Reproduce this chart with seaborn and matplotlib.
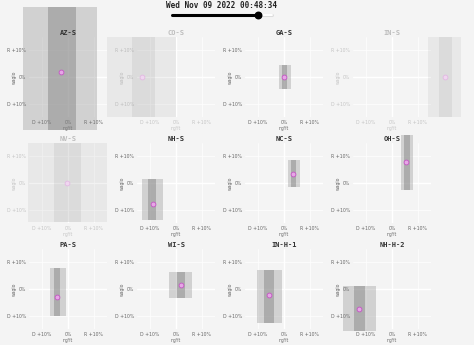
import matplotlib
matplotlib.use("Agg")
import matplotlib.pyplot as plt
from matplotlib.patches import Rectangle
import seaborn as sns
import pandas as pd

# ---- data ----
states = ["AZ-S", "CO-S", "GA-S", "IN-S",
          "NV-S", "NH-S", "NC-S", "OH-S",
          "PA-S", "WI-S", "IN-H-1", "NH-H-2"]
point_x = [-2.7, -13.0, 0.0, 20.4, -0.4, -8.8, 3.5, 5.4, -4.2, 1.9, -5.8, -12.7]
point_y = [1.9, 0.0, 0.0, 0.0, 0.0, -7.9, 3.4, 7.9, -3.0, 1.5, -2.3, -7.5]
outer_x_lo = [-17.3, -26.5, -1.9, 13.8, -15.4, -13.1, 1.5, 3.5, -6.9, -2.7, -10.4, -18.8]
outer_x_hi = [11.2, 0.0, 2.7, 26.5, 15.0, -5.0, 6.2, 8.1, -0.8, 6.2, -0.8, -6.2]
inner_x_lo = [-7.7, -16.9, -0.8, 18.1, -5.4, -10.8, 2.7, 4.6, -5.4, 0.4, -7.7, -14.6]
inner_x_hi = [3.1, -8.1, 1.2, 23.1, 5.0, -7.7, 4.6, 6.9, -3.1, 3.5, -3.8, -10.4]
band_y_lo = [-20.0, -15.1, -4.5, -15.1, -14.7, -14.0, -1.5, -2.6, -10.2, -3.4, -12.8, -15.8]
band_y_hi = [26.4, 15.1, 4.5, 15.1, 15.1, 1.5, 8.7, 18.1, 7.9, 6.4, 7.2, 1.1]
faded = [False, True, False, True, True, False, False, False, False, False, False, False]
tick_vals = [-10, 0, 10]
x_tick_labels = ["D +10%", "0%", "R +10%"]
y_tick_labels = ["D +10%", "0%", "R +10%"]
x_label = "ngYt"
y_label = "wagio"
timestamp = "Wed Nov 09 2022 00:48:34"

df = pd.DataFrame({"state": states, "px": point_x, "py": point_y})

BG = "#f4f4f4"
sns.set_theme(style="white")
plt.rcParams["font.family"] = ["DejaVu Sans"]

W, H = 474, 345
fig = plt.figure(figsize=(W / 100, H / 100), dpi=100, facecolor=BG)

col_left = [29, 137, 245, 353]
row_top = [37, 143, 249]
aw, ah = 78, 80

for i, st in enumerate(states):
    r, c = divmod(i, 4)
    left = col_left[c] / W
    bottom = 1 - (row_top[r] + ah) / H
    ax = fig.add_axes([left, bottom, aw / W, ah / H])
    ax.set_facecolor(BG)
    ax.patch.set_alpha(0)
    ax.set_xlim(-15, 15)
    ax.set_ylim(-15, 15)
    for s in ax.spines.values():
        s.set_visible(False)
    f = faded[i]
    txt_col = "#c4c4c4" if f else "#666666"
    tit_col = "#bdbdbd" if f else "#333333"
    a_out = 0.10 if f else 0.30
    a_in = 0.12 if f else 0.45
    # grid
    for v in tick_vals:
        lw = 1.0 if v == 0 else 0.5
        ax.axhline(v, color="white", lw=lw, zorder=0)
        ax.axvline(v, color="white", lw=lw, zorder=0)
    # bands
    ax.add_patch(Rectangle((outer_x_lo[i], band_y_lo[i]), outer_x_hi[i] - outer_x_lo[i],
                           band_y_hi[i] - band_y_lo[i], facecolor="#808080", alpha=a_out,
                           lw=0, clip_on=False, zorder=1))
    ax.add_patch(Rectangle((inner_x_lo[i], band_y_lo[i]), inner_x_hi[i] - inner_x_lo[i],
                           band_y_hi[i] - band_y_lo[i], facecolor="#808080", alpha=a_in,
                           lw=0, clip_on=False, zorder=2))
    sub = df[df["state"] == st]
    sns.scatterplot(data=sub, x="px", y="py", ax=ax, s=12,
                    color="#e6a6e6" if not f else "#f0d6f0",
                    edgecolor="#c455c4" if not f else "#e2b8e2",
                    linewidth=0.6, zorder=5, clip_on=False, legend=False)
    ax.set_xticks(tick_vals)
    ax.set_xticklabels(x_tick_labels)
    ax.set_yticks(tick_vals)
    ax.set_yticklabels(y_tick_labels)
    ax.tick_params(length=0, labelsize=3.3, colors=txt_col, pad=2)
    ax.set_xlabel(x_label, fontsize=3.3, color=txt_col, labelpad=1)
    ax.set_ylabel(y_label, fontsize=3.3, color=txt_col)
    ax.yaxis.set_label_coords(-0.15, 0.5)
    ax.set_title(st, fontsize=5, color=tit_col, fontweight="bold",
                 family="DejaVu Sans Mono", pad=1.5, zorder=10)

# timestamp and slider
fig.text(222 / W, 1 - 6 / H, timestamp, ha="center", va="center",
         fontsize=5.5, fontweight="bold", family="DejaVu Sans Mono", color="#222222")
sax = fig.add_axes([0, 0, 1, 1], facecolor="none")
sax.set_xlim(0, W)
sax.set_ylim(H, 0)
sax.axis("off")
sax.plot([258, 272], [15, 15], color="#dddddd", lw=2.2, solid_capstyle="round")
sax.plot([258, 272], [15, 15], color="white", lw=1.4, solid_capstyle="round")
sax.plot([172, 258], [15, 15], color="black", lw=2.2, solid_capstyle="round")
sax.scatter([258], [15], s=22, color="black", zorder=5)

fig.savefig("out.png", dpi=100, facecolor=BG)
